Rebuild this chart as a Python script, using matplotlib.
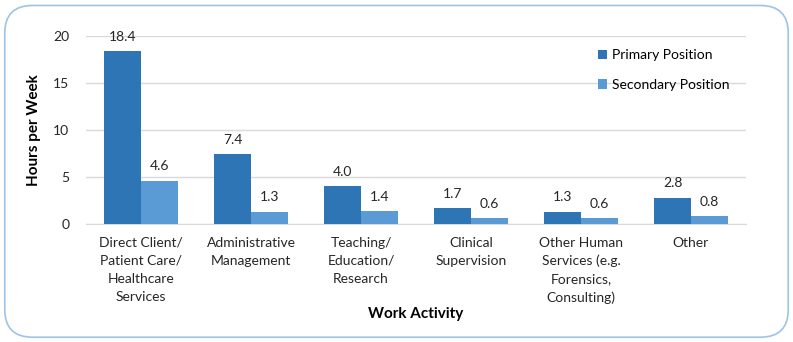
import matplotlib.pyplot as plt
from matplotlib.patches import FancyBboxPatch
import numpy as np

plt.rcParams['font.family'] = ['Lato', 'DejaVu Sans']

activities = [
    "Direct Client/\nPatient Care/\nHealthcare\nServices",
    "Administrative\nManagement",
    "Teaching/\nEducation/\nResearch",
    "Clinical\nSupervision",
    "Other Human\nServices (e.g.\nForensics,\nConsulting)",
    "Other",
]
primary = [18.4, 7.4, 4.0, 1.7, 1.3, 2.8]
secondary = [4.6, 1.3, 1.4, 0.6, 0.6, 0.8]
yticks = [0, 5, 10, 15, 20]

fig = plt.figure(figsize=(7.93, 3.42), dpi=100)
ax = fig.add_axes([0.1084, 0.345, 0.8323, 0.5503])

# rounded frame around the whole chart
frame = FancyBboxPatch((0.006, 0.014), 0.988, 0.97,
                       boxstyle="round,pad=0,rounding_size=0.035",
                       transform=fig.transFigure, facecolor='none',
                       edgecolor='#9dc3e6', linewidth=1.2, mutation_aspect=793/342)
fig.patches.append(frame)

x = np.arange(len(activities))
w = 1/3
b1 = ax.bar(x - w/2, primary, w, color='#2e75b6', label='Primary Position', zorder=3)
b2 = ax.bar(x + w/2, secondary, w, color='#5b9bd5', label='Secondary Position', zorder=3)

for bars, vals in ((b1, primary), (b2, secondary)):
    for r, v in zip(bars, vals):
        ax.annotate(f"{v:.1f}", (r.get_x() + r.get_width()/2, v),
                    xytext=(0, 6), textcoords='offset points',
                    ha='center', va='bottom', fontsize=10, color='#262626')

ax.set_xlim(-0.5, len(activities) - 0.5)
ax.set_ylim(0, 20)
ax.set_yticks(yticks)
ax.yaxis.grid(True, color='#d9d9d9', linewidth=1, zorder=0)
ax.set_xticks(x)
ax.set_xticklabels(activities, fontsize=10, linespacing=1.6, color='#262626')
ax.tick_params(axis='y', labelsize=10, colors='#262626', length=0, pad=12)
ax.tick_params(axis='x', length=0, pad=9)
for s in ('top', 'right', 'left'):
    ax.spines[s].set_visible(False)
ax.spines['bottom'].set_color('#d9d9d9')

ax.set_ylabel("Hours per Week", fontsize=11, fontweight='bold', labelpad=9)
ax.set_xlabel("Work Activity", fontsize=11, fontweight='bold', labelpad=2)

ax.legend(loc='upper left', bbox_to_anchor=(0.738, 0.892), bbox_transform=fig.transFigure,
          frameon=False, fontsize=10, labelspacing=1.25, handlelength=0.7,
          handleheight=0.7, handletextpad=0.3)

fig.savefig('out.png', dpi=100)
